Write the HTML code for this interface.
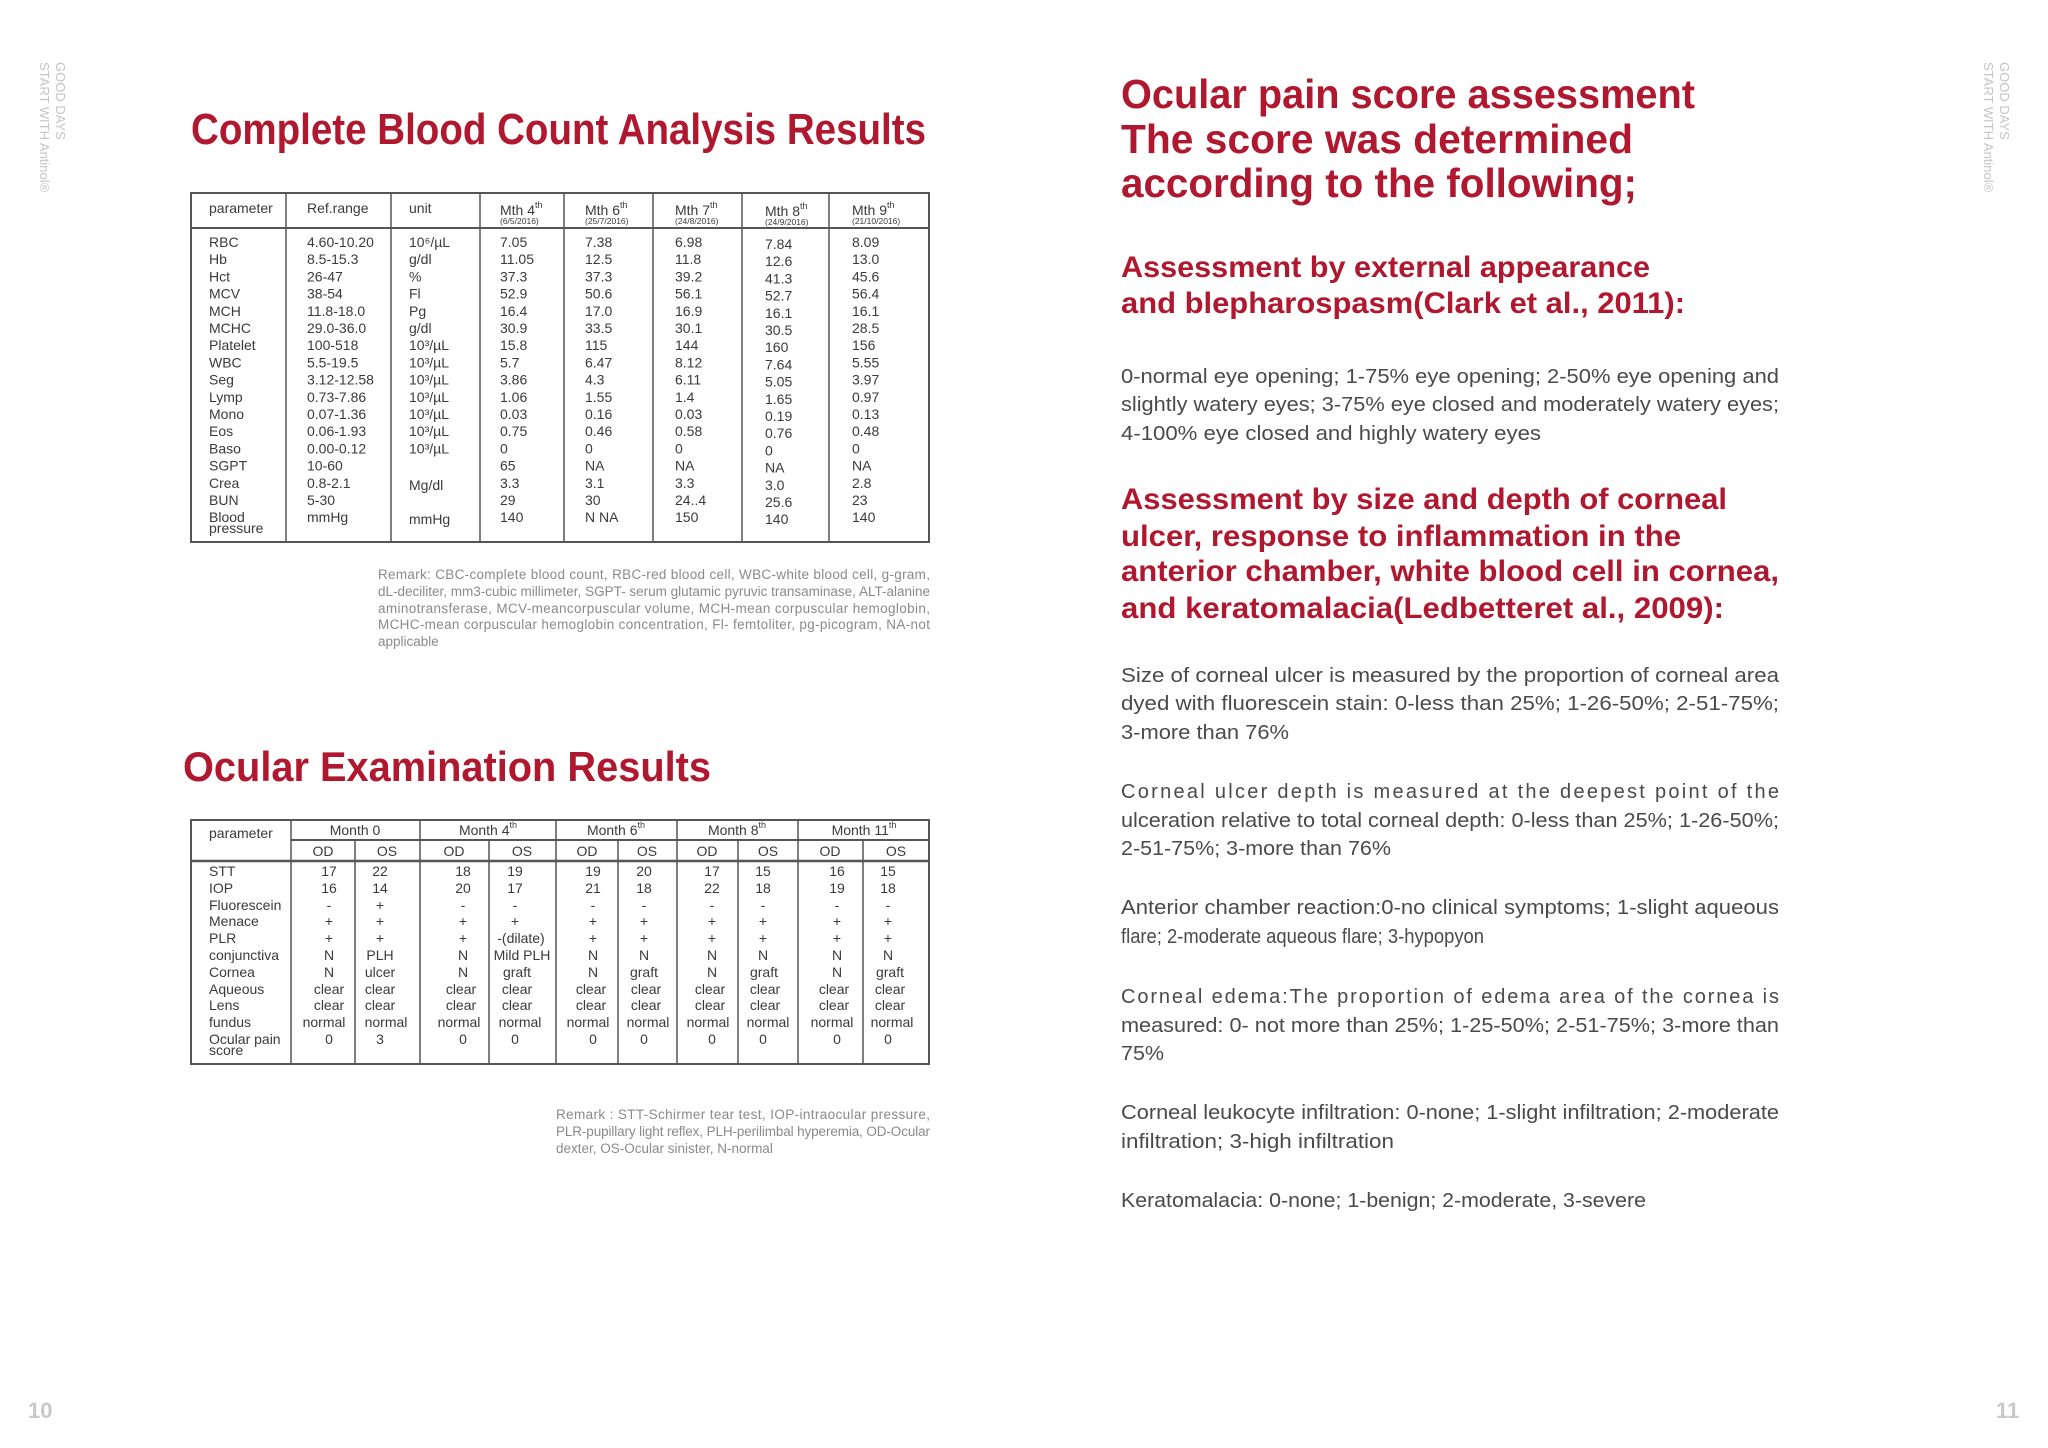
<!DOCTYPE html>
<html><head><meta charset="utf-8"><style>
html,body{margin:0;padding:0;background:#fff;}
svg{display:block;}
.t{font-family:"Liberation Sans",sans-serif;font-weight:bold;fill:#b0182f;}
.p{font-family:"Liberation Sans",sans-serif;fill:#4a4a4a;font-size:20px;}
.r{font-family:"Liberation Sans",sans-serif;fill:#8a8a8a;font-size:13.5px;}
.c{font-family:"Liberation Sans",sans-serif;fill:#3a3a3a;font-size:14px;}
.m text{text-anchor:middle;}
.side{font-family:"Liberation Sans",sans-serif;fill:#c4c4c4;font-size:13px;}
.pg{font-family:"Liberation Sans",sans-serif;fill:#c8c8c8;font-size:22px;font-weight:bold;}
</style></head><body>
<svg width="2048" height="1448" viewBox="0 0 2048 1448" xmlns="http://www.w3.org/2000/svg">
<rect width="2048" height="1448" fill="#fff"/>

<!-- side texts -->
<text class="side" transform="translate(56,62) rotate(90)">GOOD DAYS</text>
<text class="side" transform="translate(40,62) rotate(90)">START WITH Antinol®</text>
<text class="side" transform="translate(2000,62) rotate(90)">GOOD DAYS</text>
<text class="side" transform="translate(1984,62) rotate(90)">START WITH Antinol®</text>
<text class="pg" x="28" y="1418">10</text>
<text class="pg" x="1996" y="1418">11</text>

<!-- left titles -->
<text class="t" x="191" y="144" font-size="44" textLength="735" lengthAdjust="spacingAndGlyphs">Complete Blood Count Analysis Results</text>
<text class="t" x="183" y="781" font-size="42" textLength="528" lengthAdjust="spacingAndGlyphs">Ocular Examination Results</text>

<!-- Table 1 -->
<g stroke="#555" fill="none">
<rect x="191" y="193" width="738" height="349" stroke-width="2"/>
<line x1="191" y1="228" x2="929" y2="228" stroke-width="2"/>
<line x1="286" y1="193" x2="286" y2="542" stroke-width="1.5"/>
<line x1="391" y1="193" x2="391" y2="542" stroke-width="1.5"/>
<line x1="480" y1="193" x2="480" y2="542" stroke-width="1.5"/>
<line x1="564" y1="193" x2="564" y2="542" stroke-width="1.5"/>
<line x1="653" y1="193" x2="653" y2="542" stroke-width="1.5"/>
<line x1="742" y1="193" x2="742" y2="542" stroke-width="1.5"/>
<line x1="829" y1="193" x2="829" y2="542" stroke-width="1.5"/>
</g>
<g class="c">
<text x="209" y="213">parameter</text>
<text x="307" y="213">Ref.range</text>
<text x="409" y="213">unit</text>
<text x="500" y="215">Mth 4<tspan font-size="9" dy="-7">th</tspan></text><text x="500" y="224" font-size="8.5">(6/5/2016)</text>
<text x="585" y="215">Mth 6<tspan font-size="9" dy="-7">th</tspan></text><text x="585" y="224" font-size="8.5">(25/7/2016)</text>
<text x="675" y="215">Mth 7<tspan font-size="9" dy="-7">th</tspan></text><text x="675" y="224" font-size="8.5">(24/8/2016)</text>
<text x="765" y="216">Mth 8<tspan font-size="9" dy="-7">th</tspan></text><text x="765" y="225" font-size="8.5">(24/9/2016)</text>
<text x="852" y="215">Mth 9<tspan font-size="9" dy="-7">th</tspan></text><text x="852" y="224" font-size="8.5">(21/10/2016)</text>
</g>
<g class="c">
<text y="247"><tspan x="209">RBC</tspan><tspan x="307">4.60-10.20</tspan><tspan x="409">10⁶/µL</tspan><tspan x="500">7.05</tspan><tspan x="585">7.38</tspan><tspan x="675">6.98</tspan><tspan x="765" dy="2">7.84</tspan><tspan x="852" dy="-2">8.09</tspan></text>
<text y="264.2"><tspan x="209">Hb</tspan><tspan x="307">8.5-15.3</tspan><tspan x="409">g/dl</tspan><tspan x="500">11.05</tspan><tspan x="585">12.5</tspan><tspan x="675">11.8</tspan><tspan x="765" dy="2">12.6</tspan><tspan x="852" dy="-2">13.0</tspan></text>
<text y="281.4"><tspan x="209">Hct</tspan><tspan x="307">26-47</tspan><tspan x="409">%</tspan><tspan x="500">37.3</tspan><tspan x="585">37.3</tspan><tspan x="675">39.2</tspan><tspan x="765" dy="2">41.3</tspan><tspan x="852" dy="-2">45.6</tspan></text>
<text y="298.6"><tspan x="209">MCV</tspan><tspan x="307">38-54</tspan><tspan x="409">Fl</tspan><tspan x="500">52.9</tspan><tspan x="585">50.6</tspan><tspan x="675">56.1</tspan><tspan x="765" dy="2">52.7</tspan><tspan x="852" dy="-2">56.4</tspan></text>
<text y="315.8"><tspan x="209">MCH</tspan><tspan x="307">11.8-18.0</tspan><tspan x="409">Pg</tspan><tspan x="500">16.4</tspan><tspan x="585">17.0</tspan><tspan x="675">16.9</tspan><tspan x="765" dy="2">16.1</tspan><tspan x="852" dy="-2">16.1</tspan></text>
<text y="333"><tspan x="209">MCHC</tspan><tspan x="307">29.0-36.0</tspan><tspan x="409">g/dl</tspan><tspan x="500">30.9</tspan><tspan x="585">33.5</tspan><tspan x="675">30.1</tspan><tspan x="765" dy="2">30.5</tspan><tspan x="852" dy="-2">28.5</tspan></text>
<text y="350.2"><tspan x="209">Platelet</tspan><tspan x="307">100-518</tspan><tspan x="409">10³/µL</tspan><tspan x="500">15.8</tspan><tspan x="585">115</tspan><tspan x="675">144</tspan><tspan x="765" dy="2">160</tspan><tspan x="852" dy="-2">156</tspan></text>
<text y="367.4"><tspan x="209">WBC</tspan><tspan x="307">5.5-19.5</tspan><tspan x="409">10³/µL</tspan><tspan x="500">5.7</tspan><tspan x="585">6.47</tspan><tspan x="675">8.12</tspan><tspan x="765" dy="2">7.64</tspan><tspan x="852" dy="-2">5.55</tspan></text>
<text y="384.6"><tspan x="209">Seg</tspan><tspan x="307">3.12-12.58</tspan><tspan x="409">10³/µL</tspan><tspan x="500">3.86</tspan><tspan x="585">4.3</tspan><tspan x="675">6.11</tspan><tspan x="765" dy="2">5.05</tspan><tspan x="852" dy="-2">3.97</tspan></text>
<text y="401.8"><tspan x="209">Lymp</tspan><tspan x="307">0.73-7.86</tspan><tspan x="409">10³/µL</tspan><tspan x="500">1.06</tspan><tspan x="585">1.55</tspan><tspan x="675">1.4</tspan><tspan x="765" dy="2">1.65</tspan><tspan x="852" dy="-2">0.97</tspan></text>
<text y="419"><tspan x="209">Mono</tspan><tspan x="307">0.07-1.36</tspan><tspan x="409">10³/µL</tspan><tspan x="500">0.03</tspan><tspan x="585">0.16</tspan><tspan x="675">0.03</tspan><tspan x="765" dy="2">0.19</tspan><tspan x="852" dy="-2">0.13</tspan></text>
<text y="436.2"><tspan x="209">Eos</tspan><tspan x="307">0.06-1.93</tspan><tspan x="409">10³/µL</tspan><tspan x="500">0.75</tspan><tspan x="585">0.46</tspan><tspan x="675">0.58</tspan><tspan x="765" dy="2">0.76</tspan><tspan x="852" dy="-2">0.48</tspan></text>
<text y="453.4"><tspan x="209">Baso</tspan><tspan x="307">0.00-0.12</tspan><tspan x="409">10³/µL</tspan><tspan x="500">0</tspan><tspan x="585">0</tspan><tspan x="675">0</tspan><tspan x="765" dy="2">0</tspan><tspan x="852" dy="-2">0</tspan></text>
<text y="470.6"><tspan x="209">SGPT</tspan><tspan x="307">10-60</tspan><tspan x="500">65</tspan><tspan x="585">NA</tspan><tspan x="675">NA</tspan><tspan x="765" dy="2">NA</tspan><tspan x="852" dy="-2">NA</tspan></text>
<text y="487.8"><tspan x="209">Crea</tspan><tspan x="307">0.8-2.1</tspan><tspan x="409" dy="2">Mg/dl</tspan><tspan x="500" dy="-2">3.3</tspan><tspan x="585">3.1</tspan><tspan x="675">3.3</tspan><tspan x="765" dy="2">3.0</tspan><tspan x="852" dy="-2">2.8</tspan></text>
<text y="505"><tspan x="209">BUN</tspan><tspan x="307">5-30</tspan><tspan x="500">29</tspan><tspan x="585">30</tspan><tspan x="675">24..4</tspan><tspan x="765" dy="2">25.6</tspan><tspan x="852" dy="-2">23</tspan></text>
<text y="522"><tspan x="209">Blood</tspan><tspan x="307">mmHg</tspan><tspan x="409" dy="2">mmHg</tspan><tspan x="500" dy="-2">140</tspan><tspan x="585">N NA</tspan><tspan x="675">150</tspan><tspan x="765" dy="2">140</tspan><tspan x="852" dy="-2">140</tspan></text>
<text x="209" y="533">pressure</text>
</g>

<!-- Remark 1 -->
<g class="r">
<text x="378" y="579" textLength="552" lengthAdjust="spacing">Remark: CBC-complete blood count, RBC-red blood cell, WBC-white blood cell, g-gram,</text>
<text x="378" y="596" textLength="552" lengthAdjust="spacing">dL-deciliter, mm3-cubic millimeter, SGPT- serum glutamic pyruvic transaminase, ALT-alanine</text>
<text x="378" y="613" textLength="552" lengthAdjust="spacing">aminotransferase, MCV-meancorpuscular volume, MCH-mean corpuscular hemoglobin,</text>
<text x="378" y="629" textLength="552" lengthAdjust="spacing">MCHC-mean corpuscular hemoglobin concentration, Fl- femtoliter, pg-picogram, NA-not</text>
<text x="378" y="646">applicable</text>
</g>

<!-- Table 2 -->
<g stroke="#555" fill="none">
<rect x="191" y="820" width="738" height="244" stroke-width="2"/>
<line x1="291" y1="840" x2="929" y2="840" stroke-width="2"/>
<line x1="191" y1="861" x2="929" y2="861" stroke-width="2.5"/>
<line x1="291" y1="820" x2="291" y2="1064" stroke-width="1.5"/>
<line x1="420" y1="820" x2="420" y2="1064" stroke-width="1.5"/>
<line x1="556" y1="820" x2="556" y2="1064" stroke-width="1.5"/>
<line x1="677" y1="820" x2="677" y2="1064" stroke-width="1.5"/>
<line x1="798" y1="820" x2="798" y2="1064" stroke-width="1.5"/>
<line x1="355" y1="840" x2="355" y2="1064" stroke-width="1.5"/>
<line x1="489" y1="840" x2="489" y2="1064" stroke-width="1.5"/>
<line x1="618" y1="840" x2="618" y2="1064" stroke-width="1.5"/>
<line x1="738" y1="840" x2="738" y2="1064" stroke-width="1.5"/>
<line x1="863" y1="840" x2="863" y2="1064" stroke-width="1.5"/>
</g>
<g class="c">
<text x="209" y="838">parameter</text>
<text x="209" y="876">STT</text>
<text x="209" y="893">IOP</text>
<text x="209" y="910">Fluorescein</text>
<text x="209" y="926">Menace</text>
<text x="209" y="943">PLR</text>
<text x="209" y="960">conjunctiva</text>
<text x="209" y="977">Cornea</text>
<text x="209" y="994">Aqueous</text>
<text x="209" y="1010">Lens</text>
<text x="209" y="1027">fundus</text>
<text x="209" y="1044">Ocular pain</text>
<text x="209" y="1055">score</text>
</g>
<g class="c m">
<text x="355" y="835">Month 0</text>
<text x="488" y="835">Month 4<tspan font-size="9" dy="-7">th</tspan></text>
<text x="616" y="835">Month 6<tspan font-size="9" dy="-7">th</tspan></text>
<text x="737" y="835">Month 8<tspan font-size="9" dy="-7">th</tspan></text>
<text x="864" y="835">Month 11<tspan font-size="9" dy="-7">th</tspan></text>
<text y="856"><tspan x="323">OD</tspan><tspan x="387">OS</tspan><tspan x="454">OD</tspan><tspan x="522">OS</tspan><tspan x="587">OD</tspan><tspan x="647">OS</tspan><tspan x="707">OD</tspan><tspan x="768">OS</tspan><tspan x="830">OD</tspan><tspan x="896">OS</tspan></text>
<text y="876"><tspan x="329">17</tspan><tspan x="380">22</tspan><tspan x="463">18</tspan><tspan x="515">19</tspan><tspan x="593">19</tspan><tspan x="644">20</tspan><tspan x="712">17</tspan><tspan x="763">15</tspan><tspan x="837">16</tspan><tspan x="888">15</tspan></text>
<text y="893"><tspan x="329">16</tspan><tspan x="380">14</tspan><tspan x="463">20</tspan><tspan x="515">17</tspan><tspan x="593">21</tspan><tspan x="644">18</tspan><tspan x="712">22</tspan><tspan x="763">18</tspan><tspan x="837">19</tspan><tspan x="888">18</tspan></text>
<text y="910"><tspan x="329">-</tspan><tspan x="380">+</tspan><tspan x="463">-</tspan><tspan x="515">-</tspan><tspan x="593">-</tspan><tspan x="644">-</tspan><tspan x="712">-</tspan><tspan x="763">-</tspan><tspan x="837">-</tspan><tspan x="888">-</tspan></text>
<text y="926"><tspan x="329">+</tspan><tspan x="380">+</tspan><tspan x="463">+</tspan><tspan x="515">+</tspan><tspan x="593">+</tspan><tspan x="644">+</tspan><tspan x="712">+</tspan><tspan x="763">+</tspan><tspan x="837">+</tspan><tspan x="888">+</tspan></text>
<text y="943"><tspan x="329">+</tspan><tspan x="380">+</tspan><tspan x="463">+</tspan><tspan x="521">-(dilate)</tspan><tspan x="593">+</tspan><tspan x="644">+</tspan><tspan x="712">+</tspan><tspan x="763">+</tspan><tspan x="837">+</tspan><tspan x="888">+</tspan></text>
<text y="960"><tspan x="329">N</tspan><tspan x="380">PLH</tspan><tspan x="463">N</tspan><tspan x="522">Mild PLH</tspan><tspan x="593">N</tspan><tspan x="644">N</tspan><tspan x="712">N</tspan><tspan x="763">N</tspan><tspan x="837">N</tspan><tspan x="888">N</tspan></text>
<text y="977"><tspan x="329">N</tspan><tspan x="380">ulcer</tspan><tspan x="463">N</tspan><tspan x="517">graft</tspan><tspan x="593">N</tspan><tspan x="644">graft</tspan><tspan x="712">N</tspan><tspan x="764">graft</tspan><tspan x="837">N</tspan><tspan x="890">graft</tspan></text>
<text y="994"><tspan x="329">clear</tspan><tspan x="380">clear</tspan><tspan x="461">clear</tspan><tspan x="517">clear</tspan><tspan x="591">clear</tspan><tspan x="646">clear</tspan><tspan x="710">clear</tspan><tspan x="765">clear</tspan><tspan x="834">clear</tspan><tspan x="890">clear</tspan></text>
<text y="1010"><tspan x="329">clear</tspan><tspan x="380">clear</tspan><tspan x="461">clear</tspan><tspan x="517">clear</tspan><tspan x="591">clear</tspan><tspan x="646">clear</tspan><tspan x="710">clear</tspan><tspan x="765">clear</tspan><tspan x="834">clear</tspan><tspan x="890">clear</tspan></text>
<text y="1027"><tspan x="324">normal</tspan><tspan x="386">normal</tspan><tspan x="459">normal</tspan><tspan x="520">normal</tspan><tspan x="588">normal</tspan><tspan x="648">normal</tspan><tspan x="708">normal</tspan><tspan x="768">normal</tspan><tspan x="832">normal</tspan><tspan x="892">normal</tspan></text>
<text y="1044"><tspan x="329">0</tspan><tspan x="380">3</tspan><tspan x="463">0</tspan><tspan x="515">0</tspan><tspan x="593">0</tspan><tspan x="644">0</tspan><tspan x="712">0</tspan><tspan x="763">0</tspan><tspan x="837">0</tspan><tspan x="888">0</tspan></text>
</g>

<!-- Remark 2 -->
<g class="r">
<text x="556" y="1119" textLength="374" lengthAdjust="spacing">Remark : STT-Schirmer tear test, IOP-intraocular pressure,</text>
<text x="556" y="1136" textLength="374" lengthAdjust="spacing">PLR-pupillary light reflex, PLH-perilimbal hyperemia, OD-Ocular</text>
<text x="556" y="1153">dexter, OS-Ocular sinister, N-normal</text>
</g>

<!-- Right column -->
<text class="t" x="1121" y="108" font-size="41" textLength="574" lengthAdjust="spacingAndGlyphs">Ocular pain score assessment</text>
<text class="t" x="1121" y="153" font-size="41" textLength="512" lengthAdjust="spacingAndGlyphs">The score was determined</text>
<text class="t" x="1121" y="197" font-size="41" textLength="516" lengthAdjust="spacingAndGlyphs">according to the following;</text>

<text class="t" x="1121" y="277" font-size="30" textLength="529" lengthAdjust="spacingAndGlyphs">Assessment by external appearance</text>
<text class="t" x="1121" y="313" font-size="30" textLength="564" lengthAdjust="spacingAndGlyphs">and blepharospasm(Clark et al., 2011):</text>

<g class="p">
<text x="1121" y="383" textLength="658" lengthAdjust="spacingAndGlyphs">0-normal eye opening; 1-75% eye opening; 2-50% eye opening and</text>
<text x="1121" y="411" textLength="658" lengthAdjust="spacingAndGlyphs">slightly watery eyes; 3-75% eye closed and moderately watery eyes;</text>
<text x="1121" y="440" textLength="420" lengthAdjust="spacingAndGlyphs">4-100% eye closed and highly watery eyes</text>
</g>

<text class="t" x="1121" y="509" font-size="30" textLength="606" lengthAdjust="spacingAndGlyphs">Assessment by size and depth of corneal</text>
<text class="t" x="1121" y="546" font-size="30" textLength="560" lengthAdjust="spacingAndGlyphs">ulcer, response to inflammation in the</text>
<text class="t" x="1121" y="581" font-size="30" textLength="658" lengthAdjust="spacingAndGlyphs">anterior chamber, white blood cell in cornea,</text>
<text class="t" x="1121" y="618" font-size="30" textLength="603" lengthAdjust="spacingAndGlyphs">and keratomalacia(Ledbetteret al., 2009):</text>

<g class="p">
<text x="1121" y="682" textLength="658" lengthAdjust="spacingAndGlyphs">Size of corneal ulcer is measured by the proportion of corneal area</text>
<text x="1121" y="710" textLength="658" lengthAdjust="spacingAndGlyphs">dyed with fluorescein stain: 0-less than 25%; 1-26-50%; 2-51-75%;</text>
<text x="1121" y="739" textLength="168" lengthAdjust="spacingAndGlyphs">3-more than 76%</text>

<text x="1121" y="798" textLength="658" lengthAdjust="spacing">Corneal ulcer depth is measured at the deepest point of the</text>
<text x="1121" y="827" textLength="658" lengthAdjust="spacingAndGlyphs">ulceration relative to total corneal depth: 0-less than 25%; 1-26-50%;</text>
<text x="1121" y="855" textLength="270" lengthAdjust="spacingAndGlyphs">2-51-75%; 3-more than 76%</text>

<text x="1121" y="914" textLength="658" lengthAdjust="spacingAndGlyphs">Anterior chamber reaction:0-no clinical symptoms; 1-slight aqueous</text>
<text x="1121" y="943" textLength="363" lengthAdjust="spacingAndGlyphs">flare; 2-moderate aqueous flare; 3-hypopyon</text>

<text x="1121" y="1003" textLength="658" lengthAdjust="spacing">Corneal edema:The proportion of edema area of the cornea is</text>
<text x="1121" y="1032" textLength="658" lengthAdjust="spacingAndGlyphs">measured: 0- not more than 25%; 1-25-50%; 2-51-75%; 3-more than</text>
<text x="1121" y="1060" textLength="43" lengthAdjust="spacingAndGlyphs">75%</text>

<text x="1121" y="1119" textLength="658" lengthAdjust="spacingAndGlyphs">Corneal leukocyte infiltration: 0-none; 1-slight infiltration; 2-moderate</text>
<text x="1121" y="1148" textLength="273" lengthAdjust="spacingAndGlyphs">infiltration; 3-high infiltration</text>

<text x="1121" y="1207" textLength="525" lengthAdjust="spacingAndGlyphs">Keratomalacia: 0-none; 1-benign; 2-moderate, 3-severe</text>
</g>
</svg>
</body></html>
